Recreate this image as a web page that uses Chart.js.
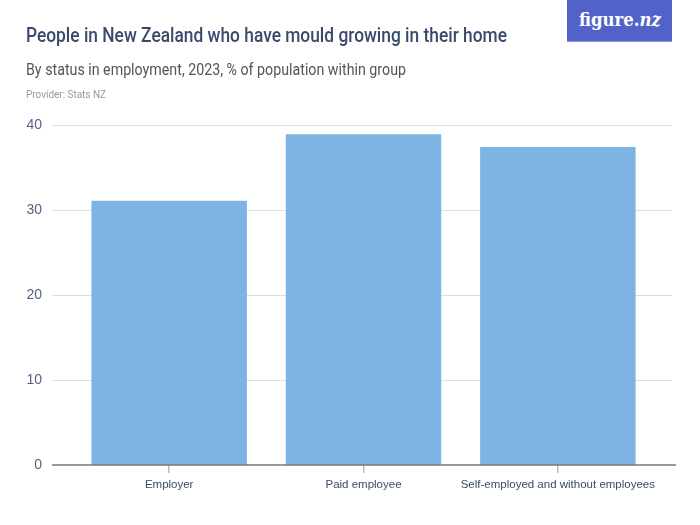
<!DOCTYPE html>
<html>
<head>
<meta charset="utf-8">
<script src="https://cdn.jsdelivr.net/npm/chart.js@4"></script>
<style>
    body { margin: 0; background: #fff; }
    #wrap { position: relative; width: 700px; height: 525px; overflow: hidden; }
    #myChart { position: absolute; left: 0; top: 0; }
    .head { position: absolute; left: 26px; white-space: nowrap; font-family: Roboto, sans-serif; transform-origin: 0 0; }
    #title { top: 23px; font-size: 21px; font-weight: 500; color: #3b4a6b; }
    #subtitle { top: 59px; font-size: 17px; color: #555; }
    #provider { top: 88px; font-size: 11px; color: #999; }
    #logo { position: absolute; left: 567px; top: 0; width: 105px; height: 41px; background: #5362c9; border-bottom: 1px solid #8a95dc; }
    #logoText { position: absolute; left: 12px; top: 8px; color: #fff; font-family: "DejaVu Serif", serif; font-weight: bold; font-size: 19px; white-space: nowrap; transform-origin: 0 0; }
</style>
</head>
<body>
<div id="wrap">
    <canvas id="myChart" width="700" height="525"></canvas>
    <div id="title" class="head" data-w="481">People in New Zealand who have mould growing in their home</div>
    <div id="subtitle" class="head" data-w="380">By status in employment, 2023, % of population within group</div>
    <div id="provider" class="head" data-w="80">Provider: Stats NZ</div>
    <div id="logo"><div id="logoText" data-w="82">figure.<i>nz</i></div></div>
</div>
<script>
const categories = ['Employer', 'Paid employee', 'Self-employed and without employees']
const mouldPercent = [31.1, 38.9, 37.4]
const yTicks = [0, 10, 20, 30, 40]

// squeeze header text to the narrow look of the original
document.querySelectorAll('[data-w]').forEach(el => {
    let w = el.getBoundingClientRect().width
    el.style.transform = 'scaleX(' + (parseFloat(el.dataset.w) / w) + ')'
})

// grid lines and the zero line run a bit wider than the bars' area
const wideGrid = {
    id: 'wideGrid',
    beforeDatasetsDraw(chart) {
        let ctx = chart.ctx
        let y = chart.scales.y
        ctx.save()
        yTicks.forEach(v => {
            if (v == 0) return
            let py = Math.round(y.getPixelForValue(v)) + 0.5
            ctx.strokeStyle = '#dddddd'
            ctx.lineWidth = 1
            ctx.beginPath()
            ctx.moveTo(52, py)
            ctx.lineTo(672, py)
            ctx.stroke()
        })
        ctx.restore()
    },
    afterDatasetsDraw(chart) {
        let ctx = chart.ctx
        let py = chart.scales.y.getPixelForValue(0)
        ctx.save()
        ctx.strokeStyle = '#777777'
        ctx.lineWidth = 1.5
        ctx.beginPath()
        ctx.moveTo(52, py)
        ctx.lineTo(676, py)
        ctx.stroke()
        ctx.restore()
    }
}

let ctx = document.getElementById('myChart')
new Chart(ctx, {
    type: 'bar',
    data: {
        labels: categories,
        datasets: [{
            data: mouldPercent,
            backgroundColor: '#7eb4e3',
            barPercentage: 0.8,
            categoryPercentage: 1
        }]
    },
    options: {
        responsive: false,
        animation: false,
        layout: { padding: { top: 125, right: 45, bottom: 20, left: 0 } },
        plugins: { legend: { display: false }, tooltip: { enabled: false } },
        scales: {
            x: {
                afterFit: s => { s.height = 40 },
                border: { display: false },
                grid: { offset: false, drawOnChartArea: false, drawTicks: true, tickLength: 8, color: '#bbbbbb', lineWidth: 1.5 },
                ticks: { padding: 5, maxRotation: 0, autoSkip: false, color: '#3b4a6b', font: { family: '"Liberation Sans", sans-serif', size: 11.5 } }
            },
            y: {
                min: 0,
                max: 40,
                afterFit: s => { s.width = 72 },
                afterBuildTicks: s => { s.ticks = yTicks.map(v => ({ value: v })) },
                border: { display: false },
                grid: { display: false, drawTicks: false },
                ticks: { padding: 30, color: '#55627f', font: { family: '"Liberation Sans", sans-serif', size: 14 } }
            }
        }
    },
    plugins: [wideGrid]
})
</script>
</body>
</html>
